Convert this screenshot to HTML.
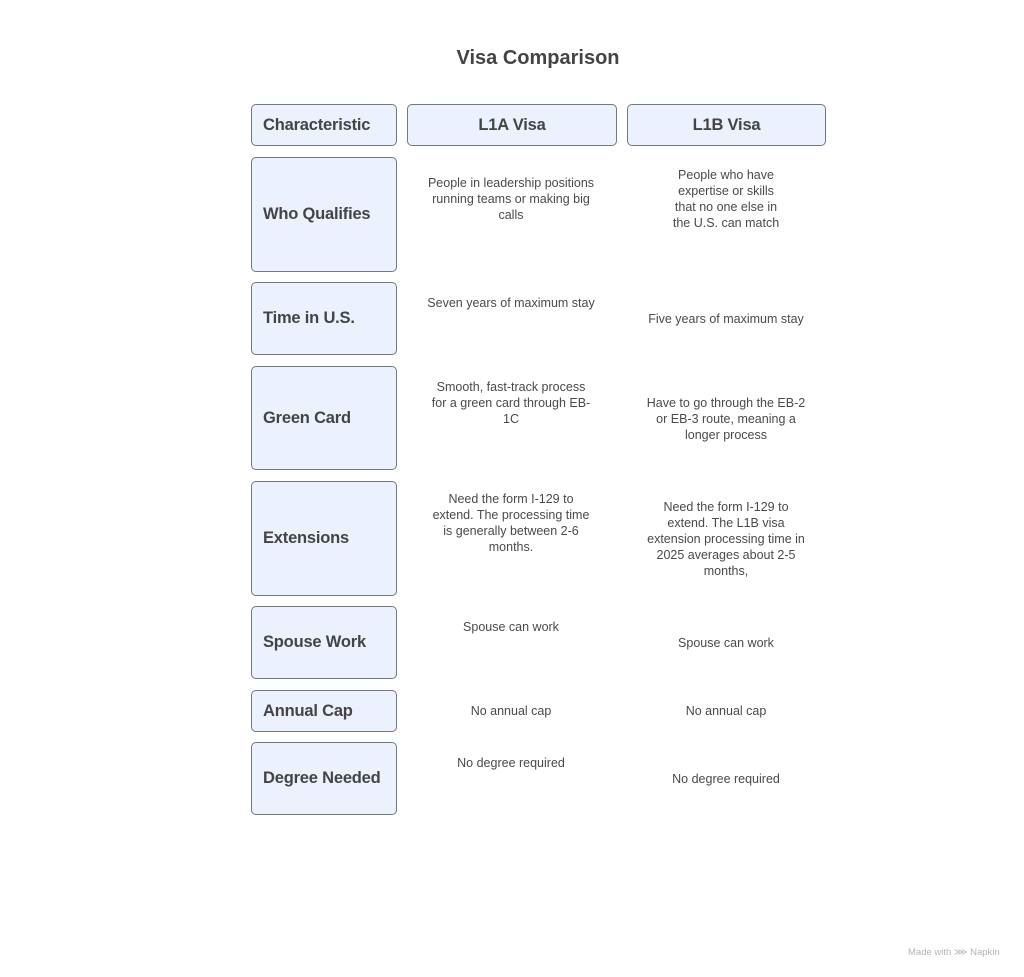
<!DOCTYPE html>
<html><head><meta charset="utf-8"><style>
body{margin:0;width:1024px;height:977px;background:#fff;position:relative;font-family:"Liberation Sans",sans-serif;overflow:hidden}
.b{position:absolute;box-sizing:border-box;background:#ebf2fe;border:1.5px solid #737780;border-radius:5px;display:flex;align-items:center;font-weight:bold;font-size:16.5px;letter-spacing:-0.2px;color:#444;}
.l{padding-left:11px}
.c{justify-content:center}
.t{position:absolute;text-align:center;font-size:12.5px;line-height:16px;color:#4a4a4a;white-space:nowrap}
.a{left:411px;width:200px}
.r{left:626px;width:200px}
</style></head><body>
<div style="position:absolute;left:0;width:1076px;top:47px;text-align:center;font-weight:bold;font-size:20px;color:#444">Visa Comparison</div>

<div class="b l" style="left:251px;top:104px;width:146px;height:42px">Characteristic</div>
<div class="b c" style="left:407px;top:104px;width:210px;height:42px">L1A Visa</div>
<div class="b c" style="left:627px;top:104px;width:199px;height:42px">L1B Visa</div>

<div class="b l" style="left:251px;top:157px;width:146px;height:115px">Who Qualifies</div>
<div class="b l" style="left:251px;top:282px;width:146px;height:73px">Time in U.S.</div>
<div class="b l" style="left:251px;top:366px;width:146px;height:104px">Green Card</div>
<div class="b l" style="left:251px;top:481px;width:146px;height:115px">Extensions</div>
<div class="b l" style="left:251px;top:606px;width:146px;height:73px">Spouse Work</div>
<div class="b l" style="left:251px;top:690px;width:146px;height:42px">Annual Cap</div>
<div class="b l" style="left:251px;top:742px;width:146px;height:73px">Degree Needed</div>

<div class="t a" style="top:175px">People in leadership positions<br>running teams or making big<br>calls</div>
<div class="t r" style="top:167px">People who have<br>expertise or skills<br>that no one else in<br>the U.S. can match</div>
<div class="t a" style="top:295px">Seven years of maximum stay</div>
<div class="t r" style="top:311px">Five years of maximum stay</div>
<div class="t a" style="top:379px">Smooth, fast-track process<br>for a green card through EB-<br>1C</div>
<div class="t r" style="top:395px">Have to go through the EB-2<br>or EB-3 route, meaning a<br>longer process</div>
<div class="t a" style="top:491px">Need the form I-129 to<br>extend. The processing time<br>is generally between 2-6<br>months.</div>
<div class="t r" style="top:499px">Need the form I-129 to<br>extend. The L1B visa<br>extension processing time in<br>2025 averages about 2-5<br>months,</div>
<div class="t a" style="top:619px">Spouse can work</div>
<div class="t r" style="top:635px">Spouse can work</div>
<div class="t a" style="top:703px">No annual cap</div>
<div class="t r" style="top:703px">No annual cap</div>
<div class="t a" style="top:755px">No degree required</div>
<div class="t r" style="top:771px">No degree required</div>

<div style="position:absolute;left:908px;top:947px;font-size:9.5px;color:#b5b5b5">Made with ⋙ Napkin</div>
</body></html>
